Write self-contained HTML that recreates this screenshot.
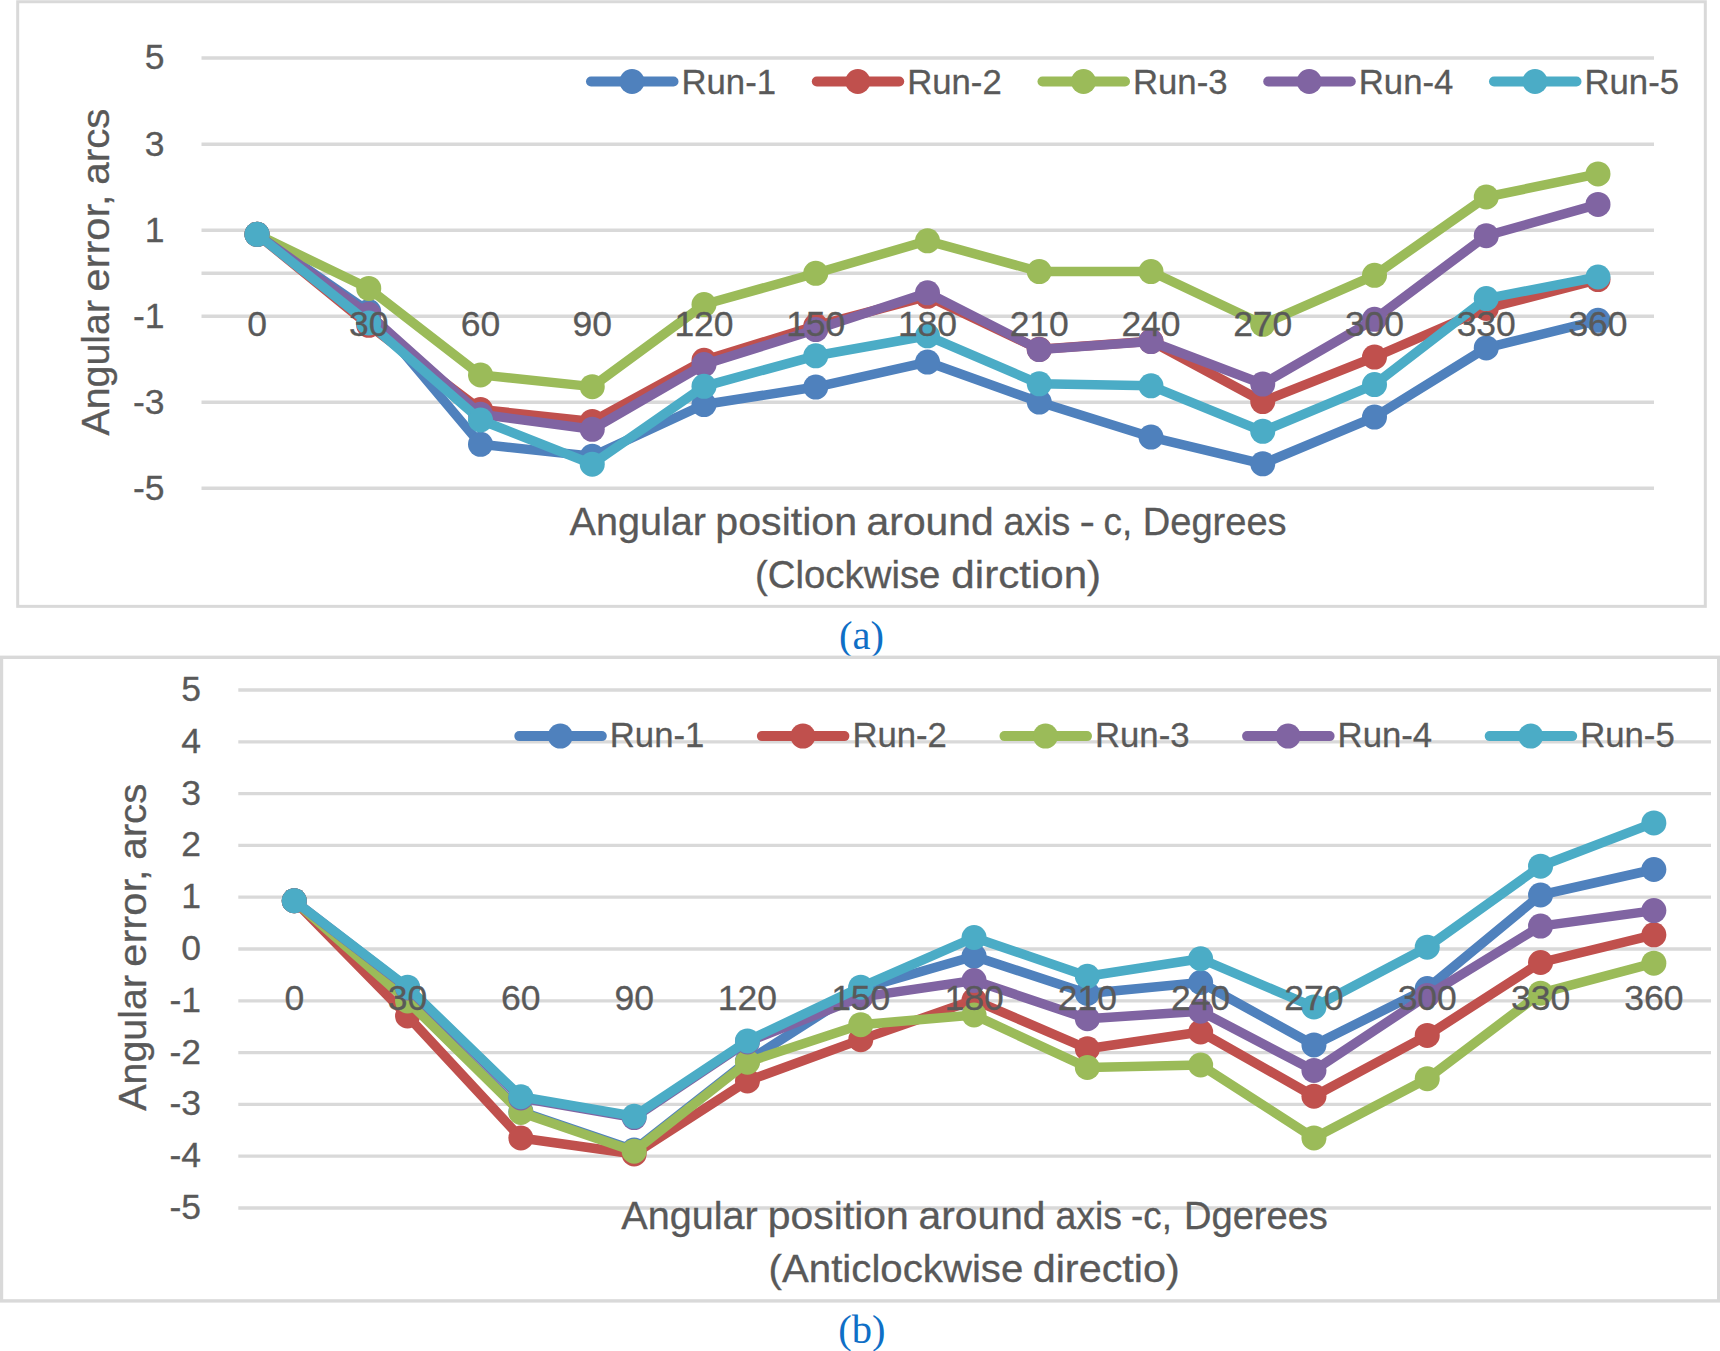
<!DOCTYPE html>
<html lang="en"><head><meta charset="utf-8"><title>Angular error charts</title>
<style>html,body{margin:0;padding:0;background:#fff}svg{display:block}text{font-family:"Liberation Sans", sans-serif;fill:#595959;stroke:#595959;stroke-width:.3px}.s{font-family:"Liberation Serif", serif;fill:#0F6FC6;stroke:none}</style></head><body>
<svg width="1720" height="1351" viewBox="0 0 1720 1351">
<rect x="0" y="0" width="1720" height="1351" fill="#fff"/>
<g id="chart-a">
<rect x="17.7" y="1.75" width="1687.6" height="604.6" fill="#fff" stroke="#D9D9D9" stroke-width="3"/>
<g stroke="#D9D9D9" stroke-width="3.3"><line x1="201.5" y1="58" x2="1654" y2="58"/><line x1="201.5" y1="144.25" x2="1654" y2="144.25"/><line x1="201.5" y1="230.25" x2="1654" y2="230.25"/><line x1="201.5" y1="273.25" x2="1654" y2="273.25"/><line x1="201.5" y1="316.25" x2="1654" y2="316.25"/><line x1="201.5" y1="402.25" x2="1654" y2="402.25"/><line x1="201.5" y1="488.25" x2="1654" y2="488.25"/></g>
<g fill="#4F81BD" stroke="#4F81BD">
<polyline points="257.00,234.30 368.75,311.50 480.50,444.30 592.25,456.30 704.00,404.55 815.75,387.05 927.50,362.05 1039.25,402.05 1151.00,437.05 1262.75,463.80 1374.50,417.05 1486.25,347.90 1598.00,320.30" fill="none" stroke-width="9.5" stroke-linecap="round" stroke-linejoin="round"/>
<g stroke="none"><circle cx="257.00" cy="234.30" r="12.5"/><circle cx="368.75" cy="311.50" r="12.5"/><circle cx="480.50" cy="444.30" r="12.5"/><circle cx="592.25" cy="456.30" r="12.5"/><circle cx="704.00" cy="404.55" r="12.5"/><circle cx="815.75" cy="387.05" r="12.5"/><circle cx="927.50" cy="362.05" r="12.5"/><circle cx="1039.25" cy="402.05" r="12.5"/><circle cx="1151.00" cy="437.05" r="12.5"/><circle cx="1262.75" cy="463.80" r="12.5"/><circle cx="1374.50" cy="417.05" r="12.5"/><circle cx="1486.25" cy="347.90" r="12.5"/><circle cx="1598.00" cy="320.30" r="12.5"/></g>
</g>
<g fill="#C0504D" stroke="#C0504D">
<polyline points="257.00,234.30 368.75,325.30 480.50,409.50 592.25,421.40 704.00,360.30 815.75,325.80 927.50,296.30 1039.25,349.30 1151.00,341.30 1262.75,401.55 1374.50,357.05 1486.25,308.50 1598.00,279.60" fill="none" stroke-width="9.5" stroke-linecap="round" stroke-linejoin="round"/>
<g stroke="none"><circle cx="257.00" cy="234.30" r="12.5"/><circle cx="368.75" cy="325.30" r="12.5"/><circle cx="480.50" cy="409.50" r="12.5"/><circle cx="592.25" cy="421.40" r="12.5"/><circle cx="704.00" cy="360.30" r="12.5"/><circle cx="815.75" cy="325.80" r="12.5"/><circle cx="927.50" cy="296.30" r="12.5"/><circle cx="1039.25" cy="349.30" r="12.5"/><circle cx="1151.00" cy="341.30" r="12.5"/><circle cx="1262.75" cy="401.55" r="12.5"/><circle cx="1374.50" cy="357.05" r="12.5"/><circle cx="1486.25" cy="308.50" r="12.5"/><circle cx="1598.00" cy="279.60" r="12.5"/></g>
</g>
<g fill="#9BBB59" stroke="#9BBB59">
<polyline points="257.00,234.30 368.75,288.40 480.50,374.90 592.25,386.65 704.00,304.55 815.75,273.30 927.50,240.80 1039.25,271.55 1151.00,271.55 1262.75,324.30 1374.50,275.30 1486.25,197.00 1598.00,173.90" fill="none" stroke-width="9.5" stroke-linecap="round" stroke-linejoin="round"/>
<g stroke="none"><circle cx="257.00" cy="234.30" r="12.5"/><circle cx="368.75" cy="288.40" r="12.5"/><circle cx="480.50" cy="374.90" r="12.5"/><circle cx="592.25" cy="386.65" r="12.5"/><circle cx="704.00" cy="304.55" r="12.5"/><circle cx="815.75" cy="273.30" r="12.5"/><circle cx="927.50" cy="240.80" r="12.5"/><circle cx="1039.25" cy="271.55" r="12.5"/><circle cx="1151.00" cy="271.55" r="12.5"/><circle cx="1262.75" cy="324.30" r="12.5"/><circle cx="1374.50" cy="275.30" r="12.5"/><circle cx="1486.25" cy="197.00" r="12.5"/><circle cx="1598.00" cy="173.90" r="12.5"/></g>
</g>
<g fill="#8064A2" stroke="#8064A2">
<polyline points="257.00,234.30 368.75,314.30 480.50,414.30 592.25,429.30 704.00,364.55 815.75,329.55 927.50,292.80 1039.25,349.55 1151.00,341.55 1262.75,384.05 1374.50,319.30 1486.25,235.70 1598.00,204.40" fill="none" stroke-width="9.5" stroke-linecap="round" stroke-linejoin="round"/>
<g stroke="none"><circle cx="257.00" cy="234.30" r="12.5"/><circle cx="368.75" cy="314.30" r="12.5"/><circle cx="480.50" cy="414.30" r="12.5"/><circle cx="592.25" cy="429.30" r="12.5"/><circle cx="704.00" cy="364.55" r="12.5"/><circle cx="815.75" cy="329.55" r="12.5"/><circle cx="927.50" cy="292.80" r="12.5"/><circle cx="1039.25" cy="349.55" r="12.5"/><circle cx="1151.00" cy="341.55" r="12.5"/><circle cx="1262.75" cy="384.05" r="12.5"/><circle cx="1374.50" cy="319.30" r="12.5"/><circle cx="1486.25" cy="235.70" r="12.5"/><circle cx="1598.00" cy="204.40" r="12.5"/></g>
</g>
<g fill="#4BACC6" stroke="#4BACC6">
<polyline points="257.00,234.30 368.75,323.00 480.50,420.00 592.25,464.20 704.00,386.30 815.75,355.80 927.50,335.80 1039.25,383.80 1151.00,385.80 1262.75,431.30 1374.50,384.55 1486.25,298.60 1598.00,277.00" fill="none" stroke-width="9.5" stroke-linecap="round" stroke-linejoin="round"/>
<g stroke="none"><circle cx="257.00" cy="234.30" r="12.5"/><circle cx="368.75" cy="323.00" r="12.5"/><circle cx="480.50" cy="420.00" r="12.5"/><circle cx="592.25" cy="464.20" r="12.5"/><circle cx="704.00" cy="386.30" r="12.5"/><circle cx="815.75" cy="355.80" r="12.5"/><circle cx="927.50" cy="335.80" r="12.5"/><circle cx="1039.25" cy="383.80" r="12.5"/><circle cx="1151.00" cy="385.80" r="12.5"/><circle cx="1262.75" cy="431.30" r="12.5"/><circle cx="1374.50" cy="384.55" r="12.5"/><circle cx="1486.25" cy="298.60" r="12.5"/><circle cx="1598.00" cy="277.00" r="12.5"/></g>
</g>
<text x="164.6" y="69.30" font-size="35.5" text-anchor="end">5</text>
<text x="164.6" y="155.55" font-size="35.5" text-anchor="end">3</text>
<text x="164.6" y="241.55" font-size="35.5" text-anchor="end">1</text>
<text x="164.6" y="327.55" font-size="35.5" text-anchor="end">-1</text>
<text x="164.6" y="413.55" font-size="35.5" text-anchor="end">-3</text>
<text x="164.6" y="499.55" font-size="35.5" text-anchor="end">-5</text>
<text x="257.00" y="335.5" font-size="35.5" text-anchor="middle">0</text>
<text x="368.75" y="335.5" font-size="35.5" text-anchor="middle">30</text>
<text x="480.50" y="335.5" font-size="35.5" text-anchor="middle">60</text>
<text x="592.25" y="335.5" font-size="35.5" text-anchor="middle">90</text>
<text x="704.00" y="335.5" font-size="35.5" text-anchor="middle">120</text>
<text x="815.75" y="335.5" font-size="35.5" text-anchor="middle">150</text>
<text x="927.50" y="335.5" font-size="35.5" text-anchor="middle">180</text>
<text x="1039.25" y="335.5" font-size="35.5" text-anchor="middle">210</text>
<text x="1151.00" y="335.5" font-size="35.5" text-anchor="middle">240</text>
<text x="1262.75" y="335.5" font-size="35.5" text-anchor="middle">270</text>
<text x="1374.50" y="335.5" font-size="35.5" text-anchor="middle">300</text>
<text x="1486.25" y="335.5" font-size="35.5" text-anchor="middle">330</text>
<text x="1598.00" y="335.5" font-size="35.5" text-anchor="middle">360</text>
<line x1="591.0" y1="81.5" x2="673.5" y2="81.5" stroke="#4F81BD" stroke-width="10" stroke-linecap="round"/>
<circle cx="632.0" cy="81.5" r="12.5" fill="#4F81BD"/>
<text x="681.5" y="93.5" font-size="35.5" textLength="94.5" lengthAdjust="spacingAndGlyphs">Run-1</text>
<line x1="816.8" y1="81.5" x2="899.2" y2="81.5" stroke="#C0504D" stroke-width="10" stroke-linecap="round"/>
<circle cx="857.8" cy="81.5" r="12.5" fill="#C0504D"/>
<text x="907.2" y="93.5" font-size="35.5" textLength="94.5" lengthAdjust="spacingAndGlyphs">Run-2</text>
<line x1="1042.5" y1="81.5" x2="1125.0" y2="81.5" stroke="#9BBB59" stroke-width="10" stroke-linecap="round"/>
<circle cx="1083.5" cy="81.5" r="12.5" fill="#9BBB59"/>
<text x="1133.0" y="93.5" font-size="35.5" textLength="94.5" lengthAdjust="spacingAndGlyphs">Run-3</text>
<line x1="1268.2" y1="81.5" x2="1350.8" y2="81.5" stroke="#8064A2" stroke-width="10" stroke-linecap="round"/>
<circle cx="1309.2" cy="81.5" r="12.5" fill="#8064A2"/>
<text x="1358.8" y="93.5" font-size="35.5" textLength="94.5" lengthAdjust="spacingAndGlyphs">Run-4</text>
<line x1="1494.0" y1="81.5" x2="1576.5" y2="81.5" stroke="#4BACC6" stroke-width="10" stroke-linecap="round"/>
<circle cx="1535.0" cy="81.5" r="12.5" fill="#4BACC6"/>
<text x="1584.5" y="93.5" font-size="35.5" textLength="94.5" lengthAdjust="spacingAndGlyphs">Run-5</text>
<text y="535.2" font-size="38"><tspan x="569.50" textLength="136.53" lengthAdjust="spacingAndGlyphs">Angular</tspan> <tspan x="715.33" textLength="141.81" lengthAdjust="spacingAndGlyphs">position</tspan> <tspan x="866.60" textLength="127.15" lengthAdjust="spacingAndGlyphs">around</tspan> <tspan x="1003.52" textLength="66.79" lengthAdjust="spacingAndGlyphs">axis</tspan> <tspan x="1079.56" textLength="15.47" lengthAdjust="spacingAndGlyphs">-</tspan> <tspan x="1103.53" textLength="28.68" lengthAdjust="spacingAndGlyphs">c,</tspan> <tspan x="1142.74" textLength="143.90" lengthAdjust="spacingAndGlyphs">Degrees</tspan></text>
<text y="588.4" font-size="38"><tspan x="754.98" textLength="185.49" lengthAdjust="spacingAndGlyphs">(Clockwise</tspan> <tspan x="951.39" textLength="149.75" lengthAdjust="spacingAndGlyphs">dirction)</tspan></text>
<text transform="translate(109.1,435.6) rotate(-90)" y="0" font-size="38"><tspan x="0.00" textLength="135.72" lengthAdjust="spacingAndGlyphs">Angular</tspan> <tspan x="144.00" textLength="97.26" lengthAdjust="spacingAndGlyphs">error,</tspan> <tspan x="250.98" textLength="76.02" lengthAdjust="spacingAndGlyphs">arcs</tspan></text>
</g>
<text class="s" x="861.6" y="648.8" font-size="40.5" text-anchor="middle">(a)</text>
<g id="chart-b">
<rect x="1.5" y="657.3" width="1717.2" height="643.6" fill="#fff" stroke="#D9D9D9" stroke-width="3.4"/>
<g stroke="#D9D9D9" stroke-width="3.3"><line x1="238.3" y1="690.00" x2="1711" y2="690.00"/><line x1="238.3" y1="741.80" x2="1711" y2="741.80"/><line x1="238.3" y1="793.60" x2="1711" y2="793.60"/><line x1="238.3" y1="845.40" x2="1711" y2="845.40"/><line x1="238.3" y1="897.20" x2="1711" y2="897.20"/><line x1="238.3" y1="949.00" x2="1711" y2="949.00"/><line x1="238.3" y1="1000.80" x2="1711" y2="1000.80"/><line x1="238.3" y1="1052.60" x2="1711" y2="1052.60"/><line x1="238.3" y1="1104.40" x2="1711" y2="1104.40"/><line x1="238.3" y1="1156.20" x2="1711" y2="1156.20"/><line x1="238.3" y1="1208.00" x2="1711" y2="1208.00"/></g>
<g fill="#4F81BD" stroke="#4F81BD">
<polyline points="294.25,900.75 407.55,1000.30 520.85,1111.50 634.15,1150.00 747.45,1061.10 860.75,988.90 974.05,956.25 1087.35,993.50 1200.65,982.50 1313.95,1045.00 1427.25,988.50 1540.55,895.00 1653.85,869.50" fill="none" stroke-width="9.5" stroke-linecap="round" stroke-linejoin="round"/>
<g stroke="none"><circle cx="294.25" cy="900.75" r="12.5"/><circle cx="407.55" cy="1000.30" r="12.5"/><circle cx="520.85" cy="1111.50" r="12.5"/><circle cx="634.15" cy="1150.00" r="12.5"/><circle cx="747.45" cy="1061.10" r="12.5"/><circle cx="860.75" cy="988.90" r="12.5"/><circle cx="974.05" cy="956.25" r="12.5"/><circle cx="1087.35" cy="993.50" r="12.5"/><circle cx="1200.65" cy="982.50" r="12.5"/><circle cx="1313.95" cy="1045.00" r="12.5"/><circle cx="1427.25" cy="988.50" r="12.5"/><circle cx="1540.55" cy="895.00" r="12.5"/><circle cx="1653.85" cy="869.50" r="12.5"/></g>
</g>
<g fill="#C0504D" stroke="#C0504D">
<polyline points="294.25,900.75 407.55,1016.00 520.85,1138.00 634.15,1154.00 747.45,1080.90 860.75,1039.65 974.05,1000.00 1087.35,1048.75 1200.65,1032.00 1313.95,1096.25 1427.25,1035.40 1540.55,962.50 1653.85,934.80" fill="none" stroke-width="9.5" stroke-linecap="round" stroke-linejoin="round"/>
<g stroke="none"><circle cx="294.25" cy="900.75" r="12.5"/><circle cx="407.55" cy="1016.00" r="12.5"/><circle cx="520.85" cy="1138.00" r="12.5"/><circle cx="634.15" cy="1154.00" r="12.5"/><circle cx="747.45" cy="1080.90" r="12.5"/><circle cx="860.75" cy="1039.65" r="12.5"/><circle cx="974.05" cy="1000.00" r="12.5"/><circle cx="1087.35" cy="1048.75" r="12.5"/><circle cx="1200.65" cy="1032.00" r="12.5"/><circle cx="1313.95" cy="1096.25" r="12.5"/><circle cx="1427.25" cy="1035.40" r="12.5"/><circle cx="1540.55" cy="962.50" r="12.5"/><circle cx="1653.85" cy="934.80" r="12.5"/></g>
</g>
<g fill="#9BBB59" stroke="#9BBB59">
<polyline points="294.25,900.75 407.55,1001.00 520.85,1112.50 634.15,1151.20 747.45,1062.15 860.75,1024.65 974.05,1015.00 1087.35,1067.50 1200.65,1065.00 1313.95,1138.00 1427.25,1078.70 1540.55,993.20 1653.85,963.20" fill="none" stroke-width="9.5" stroke-linecap="round" stroke-linejoin="round"/>
<g stroke="none"><circle cx="294.25" cy="900.75" r="12.5"/><circle cx="407.55" cy="1001.00" r="12.5"/><circle cx="520.85" cy="1112.50" r="12.5"/><circle cx="634.15" cy="1151.20" r="12.5"/><circle cx="747.45" cy="1062.15" r="12.5"/><circle cx="860.75" cy="1024.65" r="12.5"/><circle cx="974.05" cy="1015.00" r="12.5"/><circle cx="1087.35" cy="1067.50" r="12.5"/><circle cx="1200.65" cy="1065.00" r="12.5"/><circle cx="1313.95" cy="1138.00" r="12.5"/><circle cx="1427.25" cy="1078.70" r="12.5"/><circle cx="1540.55" cy="993.20" r="12.5"/><circle cx="1653.85" cy="963.20" r="12.5"/></g>
</g>
<g fill="#8064A2" stroke="#8064A2">
<polyline points="294.25,900.75 407.55,988.00 520.85,1098.00 634.15,1117.60 747.45,1041.90 860.75,997.15 974.05,980.50 1087.35,1018.75 1200.65,1011.25 1313.95,1070.50 1427.25,995.50 1540.55,926.10 1653.85,910.60" fill="none" stroke-width="9.5" stroke-linecap="round" stroke-linejoin="round"/>
<g stroke="none"><circle cx="294.25" cy="900.75" r="12.5"/><circle cx="407.55" cy="988.00" r="12.5"/><circle cx="520.85" cy="1098.00" r="12.5"/><circle cx="634.15" cy="1117.60" r="12.5"/><circle cx="747.45" cy="1041.90" r="12.5"/><circle cx="860.75" cy="997.15" r="12.5"/><circle cx="974.05" cy="980.50" r="12.5"/><circle cx="1087.35" cy="1018.75" r="12.5"/><circle cx="1200.65" cy="1011.25" r="12.5"/><circle cx="1313.95" cy="1070.50" r="12.5"/><circle cx="1427.25" cy="995.50" r="12.5"/><circle cx="1540.55" cy="926.10" r="12.5"/><circle cx="1653.85" cy="910.60" r="12.5"/></g>
</g>
<g fill="#4BACC6" stroke="#4BACC6">
<polyline points="294.25,900.75 407.55,987.20 520.85,1096.75 634.15,1116.30 747.45,1040.90 860.75,987.15 974.05,937.50 1087.35,976.25 1200.65,958.75 1313.95,1007.00 1427.25,947.20 1540.55,866.20 1653.85,822.90" fill="none" stroke-width="9.5" stroke-linecap="round" stroke-linejoin="round"/>
<g stroke="none"><circle cx="294.25" cy="900.75" r="12.5"/><circle cx="407.55" cy="987.20" r="12.5"/><circle cx="520.85" cy="1096.75" r="12.5"/><circle cx="634.15" cy="1116.30" r="12.5"/><circle cx="747.45" cy="1040.90" r="12.5"/><circle cx="860.75" cy="987.15" r="12.5"/><circle cx="974.05" cy="937.50" r="12.5"/><circle cx="1087.35" cy="976.25" r="12.5"/><circle cx="1200.65" cy="958.75" r="12.5"/><circle cx="1313.95" cy="1007.00" r="12.5"/><circle cx="1427.25" cy="947.20" r="12.5"/><circle cx="1540.55" cy="866.20" r="12.5"/><circle cx="1653.85" cy="822.90" r="12.5"/></g>
</g>
<text x="201" y="701.00" font-size="35.5" text-anchor="end">5</text>
<text x="201" y="752.80" font-size="35.5" text-anchor="end">4</text>
<text x="201" y="804.60" font-size="35.5" text-anchor="end">3</text>
<text x="201" y="856.40" font-size="35.5" text-anchor="end">2</text>
<text x="201" y="908.20" font-size="35.5" text-anchor="end">1</text>
<text x="201" y="960.00" font-size="35.5" text-anchor="end">0</text>
<text x="201" y="1011.80" font-size="35.5" text-anchor="end">-1</text>
<text x="201" y="1063.60" font-size="35.5" text-anchor="end">-2</text>
<text x="201" y="1115.40" font-size="35.5" text-anchor="end">-3</text>
<text x="201" y="1167.20" font-size="35.5" text-anchor="end">-4</text>
<text x="201" y="1219.00" font-size="35.5" text-anchor="end">-5</text>
<text x="294.25" y="1010" font-size="35.5" text-anchor="middle">0</text>
<text x="407.55" y="1010" font-size="35.5" text-anchor="middle">30</text>
<text x="520.85" y="1010" font-size="35.5" text-anchor="middle">60</text>
<text x="634.15" y="1010" font-size="35.5" text-anchor="middle">90</text>
<text x="747.45" y="1010" font-size="35.5" text-anchor="middle">120</text>
<text x="860.75" y="1010" font-size="35.5" text-anchor="middle">150</text>
<text x="974.05" y="1010" font-size="35.5" text-anchor="middle">180</text>
<text x="1087.35" y="1010" font-size="35.5" text-anchor="middle">210</text>
<text x="1200.65" y="1010" font-size="35.5" text-anchor="middle">240</text>
<text x="1313.95" y="1010" font-size="35.5" text-anchor="middle">270</text>
<text x="1427.25" y="1010" font-size="35.5" text-anchor="middle">300</text>
<text x="1540.55" y="1010" font-size="35.5" text-anchor="middle">330</text>
<text x="1653.85" y="1010" font-size="35.5" text-anchor="middle">360</text>
<line x1="519.3" y1="736.1" x2="601.8" y2="736.1" stroke="#4F81BD" stroke-width="10" stroke-linecap="round"/>
<circle cx="560.3" cy="736.1" r="12.5" fill="#4F81BD"/>
<text x="609.8" y="747.3" font-size="35.5" textLength="94.5" lengthAdjust="spacingAndGlyphs">Run-1</text>
<line x1="761.9" y1="736.1" x2="844.4" y2="736.1" stroke="#C0504D" stroke-width="10" stroke-linecap="round"/>
<circle cx="802.9" cy="736.1" r="12.5" fill="#C0504D"/>
<text x="852.4" y="747.3" font-size="35.5" textLength="94.5" lengthAdjust="spacingAndGlyphs">Run-2</text>
<line x1="1004.5" y1="736.1" x2="1087.0" y2="736.1" stroke="#9BBB59" stroke-width="10" stroke-linecap="round"/>
<circle cx="1045.5" cy="736.1" r="12.5" fill="#9BBB59"/>
<text x="1095.0" y="747.3" font-size="35.5" textLength="94.5" lengthAdjust="spacingAndGlyphs">Run-3</text>
<line x1="1247.1" y1="736.1" x2="1329.6" y2="736.1" stroke="#8064A2" stroke-width="10" stroke-linecap="round"/>
<circle cx="1288.1" cy="736.1" r="12.5" fill="#8064A2"/>
<text x="1337.6" y="747.3" font-size="35.5" textLength="94.5" lengthAdjust="spacingAndGlyphs">Run-4</text>
<line x1="1489.7" y1="736.1" x2="1572.2" y2="736.1" stroke="#4BACC6" stroke-width="10" stroke-linecap="round"/>
<circle cx="1530.7" cy="736.1" r="12.5" fill="#4BACC6"/>
<text x="1580.2" y="747.3" font-size="35.5" textLength="94.5" lengthAdjust="spacingAndGlyphs">Run-5</text>
<text y="1229.3" font-size="38"><tspan x="621.25" textLength="136.53" lengthAdjust="spacingAndGlyphs">Angular</tspan> <tspan x="767.85" textLength="141.04" lengthAdjust="spacingAndGlyphs">position</tspan> <tspan x="918.61" textLength="126.89" lengthAdjust="spacingAndGlyphs">around</tspan> <tspan x="1055.53" textLength="66.52" lengthAdjust="spacingAndGlyphs">axis</tspan> <tspan x="1131.07" textLength="40.79" lengthAdjust="spacingAndGlyphs">-c,</tspan> <tspan x="1183.99" textLength="143.90" lengthAdjust="spacingAndGlyphs">Dgerees</tspan></text>
<text y="1282.1" font-size="38"><tspan x="768.63" textLength="254.70" lengthAdjust="spacingAndGlyphs">(Anticlockwise</tspan> <tspan x="1032.66" textLength="147.19" lengthAdjust="spacingAndGlyphs">directio)</tspan></text>
<text transform="translate(145.8,1110.7) rotate(-90)" y="0" font-size="38"><tspan x="0.00" textLength="135.72" lengthAdjust="spacingAndGlyphs">Angular</tspan> <tspan x="144.00" textLength="97.26" lengthAdjust="spacingAndGlyphs">error,</tspan> <tspan x="250.98" textLength="76.02" lengthAdjust="spacingAndGlyphs">arcs</tspan></text>
</g>
<text class="s" x="861.9" y="1342.9" font-size="40.5" text-anchor="middle">(b)</text>
</svg></body></html>
